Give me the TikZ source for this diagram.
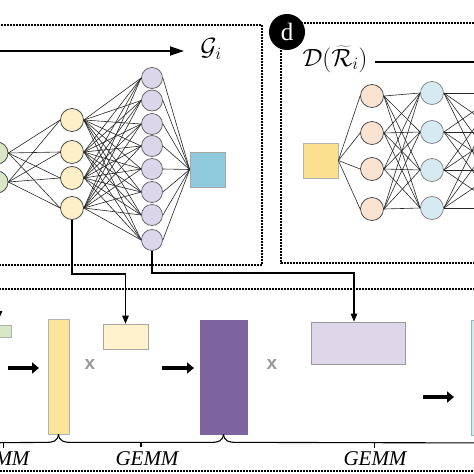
\documentclass[tikz,border=0pt]{standalone}
\usepackage{fontspec}
\newfontfamily\timesf{Liberation Serif}
\newfontfamily\arialf{Liberation Sans}
\usetikzlibrary{arrows.meta,calc}
\definecolor{cgreen}{HTML}{D8E8C6}
\definecolor{cyel}{HTML}{FDF0C6}
\definecolor{cpur}{HTML}{DCD6EA}
\definecolor{csq}{HTML}{8FCBDC}
\definecolor{cysq}{HTML}{FBE08F}
\definecolor{cpeach}{HTML}{FBE3D2}
\definecolor{cblue}{HTML}{D6EAF1}
\definecolor{cybar}{HTML}{FDE49B}
\definecolor{clybox}{HTML}{FFF2CC}
\definecolor{cpbar}{HTML}{7D64A0}
\definecolor{clpbox}{HTML}{DDD7E9}
\definecolor{cbbar}{HTML}{D3EAF1}
\definecolor{cbbord}{HTML}{8DB8C6}
\begin{document}
\begin{tikzpicture}[x=1pt,y=-1pt]
\tikzset{
 nn/.style={circle,draw=black!75,line width=0.75pt,inner sep=0pt},
 edge/.style={draw=black!85,line width=0.6pt},
 dotbox/.style={draw=black,line width=1.2pt,dash pattern=on 1.6pt off 1.4pt},
 fatarrow/.style={line width=3.6pt,-{Triangle[length=7pt,width=11pt]}},
 thinarrow/.style={line width=1.1pt,-{Triangle[length=8pt,width=6.5pt]}},
 bar/.style={rectangle,inner sep=0pt,line width=0.7pt},
 gemm/.style={font=\timesf\itshape\fontsize{21}{21}\selectfont},
 timesx/.style={text=black!40,font=\arialf\bfseries\fontsize{19}{19}\selectfont},
 bracel/.style={line width=1.1pt},
}
\useasboundingbox (0,0) rectangle (474,474);
\clip (0,0) rectangle (474,474);

% dotted boxes
\draw[dotbox] (-10,25) rectangle (262,265);
\draw[dotbox] (281,23) rectangle (490,263);
\draw[dotbox] (-10,289) rectangle (490,471);

% ---- left network
\node[nn,fill=cgreen,minimum size=22pt] (g1) at (-3,153) {};
\node[nn,fill=cgreen,minimum size=22pt] (g2) at (-3,182) {};
\foreach \i/\yy in {1/120,2/152,3/178,4/208}
  \node[nn,fill=cyel,minimum size=23pt] (y\i) at (72,\yy) {};
\foreach \i/\yy in {1/78,2/100.5,3/124,4/146,5/169,6/192,7/215,8/240}
  \node[nn,fill=cpur,draw=black!62,minimum size=21pt] (p\i) at (152,\yy) {};
\node[bar,fill=csq,draw=black!35,minimum width=35pt,minimum height=35pt] (sq) at (207.5,169.5) {};
\foreach \a in {1,2} \foreach \b in {1,...,4} \draw[edge] (g\a.east) -- (y\b.west);
\foreach \a in {1,...,4} \foreach \b in {1,...,8} \draw[edge] (y\a.east) -- (p\b.west);
\foreach \a in {1,...,8} \draw[edge] (p\a.east) -- (sq.west);

\coordinate (ga) at (-10,51);
\coordinate (gtip) at (184,51);
\draw[line width=1.8pt,-{Triangle[length=14pt,width=9pt]}] (ga) -- (gtip);
\node[font=\fontsize{26}{26}\selectfont] (Gi) at (211,49) {$\mathcal{G}_i$};

% ---- right network
\node[bar,fill=cysq,draw=black!30,minimum width=35pt,minimum height=35pt] (ysq) at (320.5,160.5) {};
\foreach \i/\yy in {1/96,2/133,3/169,4/209}
  \node[nn,fill=cpeach,minimum size=23pt] (r\i) at (372,\yy) {};
\foreach \i/\yy in {1/93,2/132,3/170,4/208}
  \node[nn,fill=cblue,draw=black!50,minimum size=23pt] (b\i) at (432,\yy) {};
\foreach \i/\yy in {1/93,2/132,3/170,4/208}
  \node[nn,fill=cblue,draw=black!50,minimum size=23pt] (n\i) at (512,\yy) {};
\foreach \b in {1,...,4} \draw[edge] (ysq.east) -- (r\b.west);
\foreach \a in {1,...,4} \foreach \b in {1,...,4} \draw[edge] (r\a.east) -- (b\b.west);
\foreach \a in {1,...,4} \foreach \b in {1,...,4} \draw[edge] (b\a.east) -- (n\b.west);

\node[font=\fontsize{23}{23}\selectfont] (D) at (335,59) {$\mathcal{D}(\widetilde{\mathcal{R}}_i)$};
\coordinate (dstart) at (375,62);
\coordinate (dend) at (490,62);
\draw[line width=2.4pt] (dstart) -- (dend);

\node[circle,fill=black,inner sep=0pt,minimum size=36pt,text=white,
      font=\timesf\fontsize{25}{25}\selectfont] (dc) at (287,32) {d};

% ---- bottom
\node[bar,fill=cgreen,draw=black!30,minimum width=21pt,minimum height=12pt] (gbox) at (0.5,331) {};
\node[bar,fill=cybar,draw=black!30,minimum width=21pt,minimum height=115pt] (ybar) at (58.5,376.5) {};
\node[bar,fill=clybox,draw=black!35,minimum width=45pt,minimum height=25pt] (lybox) at (125.5,336.5) {};
\node[bar,fill=cpbar,draw=cpbar,minimum width=47pt,minimum height=114pt] (pbar) at (223.5,377) {};
\node[bar,fill=clpbox,draw=black!40,minimum width=94pt,minimum height=42pt] (lpbox) at (358,343) {};
\node[bar,fill=cbbar,draw=cbbord,minimum width=30pt,minimum height=115pt] (bbar) at (486,377.5) {};

\node[timesx] (x1) at (90,364) {x};
\node[timesx] (x2) at (272,364) {x};

\coordinate (a1s) at (8,368);  \coordinate (a1e) at (39,368);
\coordinate (a2s) at (162,368); \coordinate (a2e) at (194,368);
\coordinate (a3s) at (423,397); \coordinate (a3e) at (454,397);
\draw[fatarrow] (a1s) -- (a1e);
\draw[fatarrow] (a2s) -- (a2e);
\draw[fatarrow] (a3s) -- (a3e);

% connectors from network to bottom
\coordinate (jg) at (-1,274);
\coordinate (gin) at (-1,325);
\coordinate (jy) at (72,274);
\coordinate (jp) at (152,273);
\draw[thinarrow,shorten >=6pt] (jg) -- (gin);
\draw[thinarrow] (y4.south) -- (jy) -| (lybox.north);
\draw[thinarrow] (p8.south) -- (jp) -| ($(lpbox.north)+(-4,0)$);

% braces
\coordinate (t0) at (-52,435);
\coordinate (t3) at (526,435);
\foreach \s/\e in {t0/ybar.south,ybar.south/pbar.south,pbar.south/t3}{
  \draw[bracel] (\s) .. controls ($(\s)+(1,7)$) and ($(\s)+(5,8)$) .. ($(\s)+(13,8)$)
     -- ($(\e)+(-13,8)$) .. controls ($(\e)+(-5,8)$) and ($(\e)+(-1,7)$) .. (\e);
  \draw[bracel] ($(\s)!0.5!(\e)+(0,8)$) -- ($(\s)!0.5!(\e)+(0,13)$);
}
\node[gemm] (gm1) at (-2,459) {GEMM};
\node[gemm] (gm2) at (147,459) {GEMM};
\node[gemm] (gm3) at (375,459) {GEMM};
\end{tikzpicture}
\end{document}
